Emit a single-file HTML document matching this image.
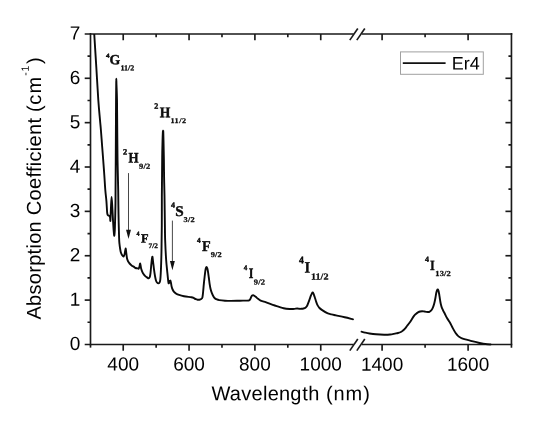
<!DOCTYPE html>
<html><head><meta charset="utf-8"><title>Absorption spectrum Er4</title>
<style>html,body{margin:0;padding:0;background:#fff}svg{display:block}.s{font-family:"Liberation Sans",Arial,sans-serif;fill:#000}.t{font-family:"Liberation Serif","Times New Roman",serif;font-weight:bold;fill:#0c0c0c;stroke:#0c0c0c;stroke-width:0.4px;stroke-linejoin:round}.u{stroke-width:0.26px}</style></head><body>
<svg width="550" height="423" viewBox="0 0 550 423">
<rect width="550" height="423" fill="#fff"/>
<defs><clipPath id="c"><rect x="90.50" y="33.95" width="420.95" height="311.70"/></clipPath></defs>
<g stroke="#1a1a1a" stroke-width="1.65" fill="none" stroke-linecap="butt">
<path d="M90.50 33.12V345.27"/>
<path d="M511.45 33.12V347.65"/>
<path d="M84.70 33.95H353.70M361.70 33.95H512.27"/>
<path d="M349.80 40.15L357.80 28.55"/>
<path d="M356.80 40.15L364.80 28.55"/>
<path d="M84.70 344.45H353.70M361.70 344.45H512.27"/>
<path d="M349.80 350.65L357.80 339.05"/>
<path d="M356.80 350.65L364.80 339.05"/>
<path d="M123.22 344.45v6.40M123.22 33.95v6.40"/>
<path d="M189.06 344.45v6.40M189.06 33.95v6.40"/>
<path d="M254.90 344.45v6.40M254.90 33.95v6.40"/>
<path d="M320.74 344.45v6.40M320.74 33.95v6.40"/>
<path d="M156.14 344.45v3.20M156.14 33.95v3.20"/>
<path d="M221.98 344.45v3.20M221.98 33.95v3.20"/>
<path d="M287.82 344.45v3.20M287.82 33.95v3.20"/>
<path d="M382.10 344.45v6.40M382.10 33.95v6.40"/>
<path d="M468.10 344.45v6.40M468.10 33.95v6.40"/>
<path d="M425.10 344.45v3.20M425.10 33.95v3.20"/>
<path d="M90.50 344.45v3.20"/>
<path d="M84.70 300.09h5.80"/>
<path d="M505.45 300.09h6.00"/>
<path d="M84.70 255.73h5.80"/>
<path d="M505.45 255.73h6.00"/>
<path d="M84.70 211.37h5.80"/>
<path d="M505.45 211.37h6.00"/>
<path d="M84.70 167.01h5.80"/>
<path d="M505.45 167.01h6.00"/>
<path d="M84.70 122.65h5.80"/>
<path d="M505.45 122.65h6.00"/>
<path d="M84.70 78.29h5.80"/>
<path d="M505.45 78.29h6.00"/>
<path d="M87.50 322.27h3.00M508.45 322.27h3.00"/>
<path d="M87.50 277.91h3.00M508.45 277.91h3.00"/>
<path d="M87.50 233.55h3.00M508.45 233.55h3.00"/>
<path d="M87.50 189.19h3.00M508.45 189.19h3.00"/>
<path d="M87.50 144.83h3.00M508.45 144.83h3.00"/>
<path d="M87.50 100.47h3.00M508.45 100.47h3.00"/>
<path d="M87.50 56.11h3.00M508.45 56.11h3.00"/>
</g>
<g class="s" font-size="19" text-anchor="end" transform="rotate(0.03 80 190)">
<text x="80.3" y="350.10">0</text>
<text x="80.3" y="305.74">1</text>
<text x="80.3" y="261.38">2</text>
<text x="80.3" y="217.02">3</text>
<text x="80.3" y="172.66">4</text>
<text x="80.3" y="128.30">5</text>
<text x="80.3" y="83.94">6</text>
<text x="80.3" y="39.58">7</text>
</g>
<g class="s" font-size="19" text-anchor="middle" transform="rotate(0.03 300 370)">
<text x="123.22" y="370.6">400</text>
<text x="189.06" y="370.6">600</text>
<text x="254.90" y="370.6">800</text>
<text x="320.74" y="370.6">1000</text>
<text x="382.10" y="370.6">1400</text>
<text x="468.10" y="370.6">1600</text>
</g>
<text class="s" font-size="20" transform="rotate(0.03 290 400)" style="letter-spacing:0.29px" x="211.4" y="400.2" dx="0 0 0 0 0 0 0 -0.3 0.6 0.2 0 0.5 0.4 0.5 0.9">Wavelength (nm)</text>
<text class="s" font-size="20" style="letter-spacing:0.29px" transform="translate(40.8 319.6) rotate(-89.97)" dx="0 0 0 0 0 0 0 0 0 0 0 0 0 0 0 0 0 0 0 0 0 0 0 0 0.3 0.9">Absorption Coefficient (cm<tspan font-size="10.5" dy="-12.3" dx="0.6 0.6">-1</tspan><tspan dy="12.3" dx="1.3">)</tspan></text>
<rect x="400.5" y="51.9" width="82.8" height="22.4" fill="#fff" stroke="#a0a0a0" stroke-width="1"/>
<path d="M402.8 63.1H445.6" stroke="#111" stroke-width="1.7"/>
<text class="s" font-size="18" transform="rotate(0.03 466 69)" x="451.8" y="69.6">Er4</text>
<g clip-path="url(#c)"><path d="M93.30 20.00C93.47 22.50 93.80 27.17 94.30 35.00C94.80 42.83 95.63 56.17 96.30 67.00C96.97 77.83 97.68 91.17 98.30 100.00C98.92 108.83 99.57 115.00 100.00 120.00C100.43 125.00 100.53 125.50 100.90 130.00C101.27 134.50 101.82 142.00 102.20 147.00C102.58 152.00 102.85 155.33 103.20 160.00C103.55 164.67 103.95 170.00 104.30 175.00C104.65 180.00 104.95 185.68 105.30 190.00C105.65 194.32 106.10 197.27 106.40 200.90C106.70 204.53 106.90 209.52 107.10 211.80C107.30 214.08 107.40 214.00 107.60 214.60C107.80 215.20 108.00 215.18 108.30 215.40C108.60 215.62 109.10 215.55 109.40 215.90C109.70 216.25 109.93 216.72 110.10 217.50C110.27 218.28 110.27 222.02 110.40 220.60C110.53 219.18 110.70 212.95 110.90 209.00C111.10 205.05 111.35 196.90 111.60 196.90C111.85 196.90 112.15 204.82 112.40 209.00C112.65 213.18 112.88 218.33 113.10 222.00C113.32 225.67 113.50 228.73 113.70 231.00C113.90 233.27 114.10 236.10 114.30 235.60C114.50 235.10 114.71 233.10 114.90 228.00C115.09 222.90 115.34 211.33 115.45 205.00C115.56 198.67 115.50 197.50 115.55 190.00C115.60 182.50 115.69 170.00 115.75 160.00C115.81 150.00 115.85 140.00 115.90 130.00C115.95 120.00 116.00 107.50 116.05 100.00C116.10 92.50 116.16 88.55 116.20 85.00C116.24 81.45 116.25 78.70 116.30 78.70C116.35 78.70 116.38 81.45 116.50 85.00C116.62 88.55 116.88 92.50 117.00 100.00C117.12 107.50 117.16 120.00 117.25 130.00C117.34 140.00 117.39 150.00 117.55 160.00C117.71 170.00 118.04 181.00 118.20 190.00C118.36 199.00 118.35 206.00 118.50 214.00C118.65 222.00 118.93 233.00 119.10 238.00C119.27 243.00 119.33 242.25 119.50 244.00C119.67 245.75 119.88 247.12 120.10 248.50C120.32 249.88 120.45 251.17 120.80 252.30C121.15 253.43 121.72 254.62 122.20 255.30C122.68 255.98 123.28 256.68 123.70 256.40C124.12 256.12 124.38 254.92 124.70 253.60C125.02 252.28 125.33 248.57 125.60 248.50C125.87 248.43 126.05 251.48 126.30 253.20C126.55 254.92 126.78 257.42 127.10 258.80C127.42 260.18 127.78 260.72 128.20 261.50C128.62 262.28 129.03 262.85 129.60 263.50C130.17 264.15 130.87 264.83 131.60 265.40C132.33 265.97 133.33 266.47 134.00 266.90C134.67 267.33 135.02 267.77 135.60 268.00C136.18 268.23 137.00 268.18 137.50 268.30C138.00 268.42 138.28 268.95 138.60 268.70C138.92 268.45 139.13 267.65 139.40 266.80C139.67 265.95 139.93 263.40 140.20 263.60C140.47 263.80 140.73 266.83 141.00 268.00C141.27 269.17 141.47 269.73 141.80 270.60C142.13 271.47 142.47 272.33 143.00 273.20C143.53 274.07 144.33 275.10 145.00 275.80C145.67 276.50 146.37 276.98 147.00 277.40C147.63 277.82 148.33 278.37 148.80 278.30C149.27 278.23 149.52 277.85 149.80 277.00C150.08 276.15 150.23 275.45 150.50 273.20C150.77 270.95 151.10 266.27 151.40 263.50C151.70 260.73 152.02 256.85 152.30 256.60C152.58 256.35 152.82 259.87 153.10 262.00C153.38 264.13 153.68 267.07 154.00 269.40C154.32 271.73 154.68 274.20 155.00 276.00C155.32 277.80 155.57 279.12 155.90 280.20C156.23 281.28 156.58 281.97 157.00 282.50C157.42 283.03 157.98 283.40 158.40 283.40C158.82 283.40 159.18 283.13 159.50 282.50C159.82 281.87 160.05 282.02 160.30 279.60C160.55 277.18 160.80 272.93 161.00 268.00C161.20 263.07 161.37 257.00 161.50 250.00C161.63 243.00 161.74 235.00 161.80 226.00C161.86 217.00 161.81 204.67 161.85 196.00C161.89 187.33 161.99 180.67 162.05 174.00C162.11 167.33 162.12 161.67 162.20 156.00C162.28 150.33 162.44 143.97 162.55 140.00C162.66 136.03 162.77 133.70 162.85 132.20C162.93 130.70 162.98 131.00 163.05 131.00C163.12 131.00 163.21 129.87 163.30 132.20C163.39 134.53 163.50 140.37 163.60 145.00C163.70 149.63 163.82 154.50 163.90 160.00C163.98 165.50 164.00 172.00 164.10 178.00C164.20 184.00 164.37 188.00 164.50 196.00C164.63 204.00 164.79 218.67 164.90 226.00C165.01 233.33 164.95 234.47 165.15 240.00C165.35 245.53 165.72 253.67 166.10 259.20C166.47 264.73 167.03 269.47 167.40 273.20C167.77 276.93 168.07 279.90 168.30 281.60C168.53 283.30 168.58 283.43 168.80 283.40C169.02 283.37 169.33 281.87 169.60 281.40C169.87 280.93 170.17 280.33 170.40 280.60C170.63 280.87 170.80 282.02 171.00 283.00C171.20 283.98 171.33 285.42 171.60 286.50C171.87 287.58 172.23 288.65 172.60 289.50C172.97 290.35 173.27 290.95 173.80 291.60C174.33 292.25 175.07 292.90 175.80 293.40C176.53 293.90 176.83 294.12 178.20 294.60C179.57 295.08 181.80 295.87 184.00 296.30C186.20 296.73 189.82 296.93 191.40 297.20C192.98 297.47 192.77 297.57 193.50 297.90C194.23 298.23 195.13 298.90 195.80 299.20C196.47 299.50 196.90 299.62 197.50 299.70C198.10 299.78 198.78 299.82 199.40 299.70C200.02 299.58 200.70 299.37 201.20 299.00C201.70 298.63 202.08 298.67 202.40 297.50C202.72 296.33 202.87 294.20 203.10 292.00C203.33 289.80 203.55 286.80 203.80 284.30C204.05 281.80 204.35 279.20 204.60 277.00C204.85 274.80 205.08 272.60 205.30 271.10C205.52 269.60 205.70 268.68 205.90 268.00C206.10 267.32 206.28 267.00 206.50 267.00C206.72 267.00 206.97 267.32 207.20 268.00C207.43 268.68 207.63 269.52 207.90 271.10C208.17 272.68 208.50 275.30 208.80 277.50C209.10 279.70 209.38 282.30 209.70 284.30C210.02 286.30 210.33 288.03 210.70 289.50C211.07 290.97 211.48 292.02 211.90 293.10C212.32 294.18 212.72 295.15 213.20 296.00C213.68 296.85 214.20 297.63 214.80 298.20C215.40 298.77 216.07 299.08 216.80 299.40C217.53 299.72 217.83 299.88 219.20 300.10C220.57 300.32 223.05 300.57 225.00 300.70C226.95 300.83 228.40 300.90 230.90 300.90C233.40 300.90 237.48 300.75 240.00 300.70C242.52 300.65 244.47 300.65 246.00 300.60C247.53 300.55 248.48 300.67 249.20 300.40C249.92 300.13 249.95 299.60 250.30 299.00C250.65 298.40 250.98 297.37 251.30 296.80C251.62 296.23 251.90 295.85 252.20 295.60C252.50 295.35 252.75 295.27 253.10 295.30C253.45 295.33 253.87 295.55 254.30 295.80C254.73 296.05 255.08 296.30 255.70 296.80C256.32 297.30 257.17 298.15 258.00 298.80C258.83 299.45 259.87 300.27 260.70 300.70C261.53 301.13 262.08 301.13 263.00 301.40C263.92 301.67 264.22 301.62 266.20 302.30C268.18 302.98 272.00 304.52 274.90 305.50C277.80 306.48 281.05 307.62 283.60 308.20C286.15 308.78 288.47 308.88 290.20 309.00C291.93 309.12 292.83 308.98 294.00 308.90C295.17 308.82 296.37 308.52 297.20 308.50C298.03 308.48 298.35 308.75 299.00 308.80C299.65 308.85 300.35 308.85 301.10 308.80C301.85 308.75 302.77 308.68 303.50 308.50C304.23 308.32 304.92 308.12 305.50 307.70C306.08 307.28 306.57 306.72 307.00 306.00C307.43 305.28 307.68 304.47 308.10 303.40C308.52 302.33 309.03 300.88 309.50 299.60C309.97 298.32 310.50 296.73 310.90 295.70C311.30 294.67 311.60 293.93 311.90 293.40C312.20 292.87 312.42 292.40 312.70 292.50C312.98 292.60 313.28 293.28 313.60 294.00C313.92 294.72 314.20 295.60 314.60 296.80C315.00 298.00 315.52 299.82 316.00 301.20C316.48 302.58 316.92 303.97 317.50 305.10C318.08 306.23 318.78 307.20 319.50 308.00C320.22 308.80 320.50 309.03 321.80 309.90C323.10 310.77 325.68 312.45 327.30 313.20C328.92 313.95 330.05 314.03 331.50 314.40C332.95 314.77 333.80 314.92 336.00 315.40C338.20 315.88 341.87 316.65 344.70 317.30C347.53 317.95 351.62 318.97 353.00 319.30" fill="none" stroke="#0a0a0a" stroke-width="1.9" stroke-linejoin="round" stroke-linecap="round"/>
<path d="M361.50 331.70C362.08 331.85 363.67 332.30 365.00 332.60C366.33 332.90 367.67 333.22 369.50 333.50C371.33 333.78 373.57 334.10 376.00 334.30C378.43 334.50 381.77 334.67 384.10 334.70C386.43 334.73 388.18 334.68 390.00 334.50C391.82 334.32 393.67 333.85 395.00 333.60C396.33 333.35 397.02 333.27 398.00 333.00C398.98 332.73 400.12 332.37 400.90 332.00C401.68 331.63 402.10 331.28 402.70 330.80C403.30 330.32 403.78 329.90 404.50 329.10C405.22 328.30 406.13 327.10 407.00 326.00C407.87 324.90 408.53 324.18 409.70 322.50C410.87 320.82 412.92 317.37 414.00 315.90C415.08 314.43 415.47 314.32 416.20 313.70C416.93 313.08 417.73 312.57 418.40 312.20C419.07 311.83 419.58 311.67 420.20 311.50C420.82 311.33 421.42 311.20 422.10 311.20C422.78 311.20 423.57 311.38 424.30 311.50C425.03 311.62 425.88 311.82 426.50 311.90C427.12 311.98 427.52 312.02 428.00 312.00C428.48 311.98 428.90 312.03 429.40 311.80C429.90 311.57 430.50 311.13 431.00 310.60C431.50 310.07 431.97 309.43 432.40 308.60C432.83 307.77 433.23 306.70 433.60 305.60C433.97 304.50 434.28 303.35 434.60 302.00C434.92 300.65 435.22 299.03 435.50 297.50C435.78 295.97 436.03 294.02 436.30 292.80C436.57 291.58 436.85 290.75 437.10 290.20C437.35 289.65 437.58 289.43 437.80 289.50C438.02 289.57 438.20 289.98 438.40 290.60C438.60 291.22 438.78 292.05 439.00 293.20C439.22 294.35 439.47 296.03 439.70 297.50C439.93 298.97 440.17 300.70 440.40 302.00C440.63 303.30 440.85 304.33 441.10 305.30C441.35 306.27 441.53 306.88 441.90 307.80C442.27 308.72 442.82 309.82 443.30 310.80C443.78 311.78 444.18 312.48 444.80 313.70C445.42 314.92 446.15 316.63 447.00 318.10C447.85 319.57 448.92 320.78 449.90 322.50C450.88 324.22 451.92 326.60 452.90 328.40C453.88 330.20 455.03 332.15 455.80 333.30C456.57 334.45 456.88 334.68 457.50 335.30C458.12 335.92 458.75 336.50 459.50 337.00C460.25 337.50 461.03 337.90 462.00 338.30C462.97 338.70 463.97 339.02 465.30 339.40C466.63 339.78 468.52 340.22 470.00 340.60C471.48 340.98 472.78 341.35 474.20 341.70C475.62 342.05 477.02 342.38 478.50 342.70C479.98 343.02 481.68 343.35 483.10 343.60C484.52 343.85 485.77 344.05 487.00 344.20C488.23 344.35 489.92 344.45 490.50 344.50" fill="none" stroke="#0a0a0a" stroke-width="1.9" stroke-linejoin="round" stroke-linecap="round"/></g>
<path d="M128.50 173.10V233.00" stroke="#333" stroke-width="0.9"/>
<path d="M126.05 229.80L130.95 229.80L128.50 239.00Z" fill="#111"/>
<path d="M172.40 220.60V264.30" stroke="#333" stroke-width="0.9"/>
<path d="M169.95 261.10L174.85 261.10L172.40 270.30Z" fill="#111"/>
<g transform="rotate(0.03 270 200)">
<text class="t" font-size="5.61" transform="scale(1.2659 1)" x="83.73" y="57.50">4</text>
<text class="t" font-size="13.96" transform="scale(0.9930 1)" x="110.13" y="64.41">G</text>
<text class="t u" font-size="7.46" transform="scale(1.0804 1)" x="111.40" y="70.23" style="letter-spacing:0.00px">11/2</text>
<text class="t" font-size="8.18" transform="scale(1.0308 1)" x="119.39" y="154.50">2</text>
<text class="t" font-size="14.43" transform="scale(0.8932 1)" x="143.71" y="162.65">H</text>
<text class="t u" font-size="7.61" transform="scale(1.1200 1)" x="124.18" y="168.82" style="letter-spacing:0.08px">9/2</text>
<text class="t" font-size="8.33" transform="scale(0.9831 1)" x="156.82" y="108.80">2</text>
<text class="t" font-size="14.73" transform="scale(0.9202 1)" x="173.49" y="117.25">H</text>
<text class="t u" font-size="7.31" transform="scale(1.1200 1)" x="152.09" y="123.13" style="letter-spacing:0.47px">11/2</text>
<text class="t" font-size="6.36" transform="scale(0.9462 1)" x="144.37" y="235.90">4</text>
<text class="t" font-size="12.60" transform="scale(0.9816 1)" x="143.61" y="242.65">F</text>
<text class="t u" font-size="7.01" transform="scale(1.0510 1)" x="141.38" y="248.03" style="letter-spacing:0.00px">7/2</text>
<text class="t" font-size="7.73" transform="scale(1.0297 1)" x="166.14" y="207.50">4</text>
<text class="t" font-size="14.85" transform="scale(1.0247 1)" x="170.99" y="216.00">S</text>
<text class="t u" font-size="7.46" transform="scale(1.1200 1)" x="163.81" y="222.03" style="letter-spacing:0.27px">3/2</text>
<text class="t" font-size="7.42" transform="scale(0.9849 1)" x="200.02" y="242.80">4</text>
<text class="t" font-size="14.89" transform="scale(0.9527 1)" x="211.96" y="250.95">F</text>
<text class="t u" font-size="7.46" transform="scale(1.1200 1)" x="188.21" y="257.03" style="letter-spacing:0.13px">9/2</text>
<text class="t" font-size="7.12" transform="scale(0.9966 1)" x="244.63" y="269.90">4</text>
<text class="t" font-size="14.43" transform="scale(0.8231 1)" x="302.20" y="278.25">I</text>
<text class="t u" font-size="7.61" transform="scale(1.1200 1)" x="226.60" y="284.42" style="letter-spacing:0.17px">9/2</text>
<text class="t" font-size="10.15" transform="scale(0.9533 1)" x="313.71" y="263.20">4</text>
<text class="t" font-size="15.80" transform="scale(0.9097 1)" x="334.88" y="272.45">I</text>
<text class="t u" font-size="9.10" transform="scale(1.1121 1)" x="279.73" y="279.41" style="letter-spacing:-0.00px">11/2</text>
<text class="t" font-size="7.73" transform="scale(1.0297 1)" x="412.71" y="261.70">4</text>
<text class="t" font-size="13.97" transform="scale(0.8724 1)" x="493.01" y="269.75">I</text>
<text class="t u" font-size="7.61" transform="scale(1.1200 1)" x="388.68" y="275.82" style="letter-spacing:0.09px">13/2</text>
</g>
</svg></body></html>
